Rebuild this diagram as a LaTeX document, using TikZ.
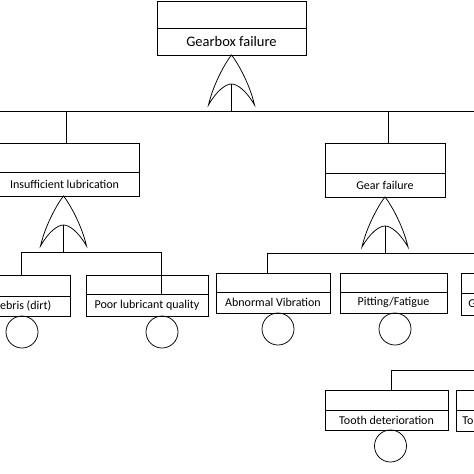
\documentclass[tikz,border=0pt]{standalone}
\usepackage{fontspec}
\setmainfont{Carlito}
\newcommand\evbox[7]{%
  \node[evpart, minimum width={(#3)-(#2)}, minimum height={(#5)-(#4)}] (#1u) at ({((#2)+(#3))/2},{((#4)+(#5))/2}) {};
  \node[evpart, minimum width={(#3)-(#2)}, minimum height={(#6)-(#5)}] (#1) at ({((#2)+(#3))/2},{((#5)+(#6))/2}) {#7};
}
\begin{document}
\begin{tikzpicture}[x=1pt,y=-1pt,line width=0.75pt,
  evpart/.style={draw, rectangle, inner sep=0pt, outer sep=0pt, font=\fontsize{12}{14}\selectfont},
  basic/.style={draw, circle, minimum size=32pt, inner sep=0pt, outer sep=0pt},
  lbl/.style={inner sep=0pt, font=\fontsize{12}{14}\selectfont},
  andgate/.pic={
    \draw (0,0) .. controls (-5,6) and (-18,28) .. (-23,50)
      .. controls (-15,36) and (-6,29) .. (0,29)
      .. controls (6,29) and (15,36) .. (23,50)
      .. controls (18,28) and (5,6) .. (0,0) -- cycle;
    \coordinate (-in) at (0,29);
  }]
\useasboundingbox (0,0) rectangle (474,474);
\clip (0,0) rectangle (474,474);

% events
\evbox{top}{157}{306}{1}{28}{55}{}
\node[lbl, font=\fontsize{14.5}{16}\selectfont] (toplbl) at (top) {Gearbox failure};
\evbox{ins}{-10}{139}{143}{172}{196}{Insufficient lubrication}
\evbox{gear}{325}{445}{143}{173}{197}{Gear failure}
\evbox{deb}{-26}{70}{275}{296}{316}{Debris (dirt)}
\evbox{poor}{86}{208}{275}{294}{316}{Poor lubricant quality}
\evbox{abn}{216}{330}{273}{292}{313}{Abnormal Vibration}
\evbox{pit}{340}{447}{273}{292}{313}{Pitting/Fatigue}
\evbox{gx}{461}{580}{273}{293}{315}{}
\node[lbl, anchor=west] (gxl) at ([xshift=7pt]gx.west) {G};
\evbox{tooth}{325}{448}{390}{410}{430}{Tooth deterioration}
\evbox{tox}{456}{580}{390}{410}{431}{}
\node[lbl, anchor=west] (toxl) at ([xshift=6pt]tox.west) {To};

% basic event circles
\node[basic, anchor=north] (c1) at (deb.south) {};
\node[basic, anchor=north] (c2) at ([xshift=15pt]poor.south) {};
\node[basic, anchor=north] (c3) at ([xshift=5pt]abn.south) {};
\node[basic, anchor=north] (c4) at ([xshift=1.5pt]pit.south) {};
\node[basic, anchor=north] (c5) at ([xshift=4pt]tooth.south) {};

% gates
\pic (g1) at (top.south) {andgate};
\pic (g2) at ([xshift=-1pt]ins.south) {andgate};
\pic (g3) at (gear.south) {andgate};

% bars
\coordinate (b1l) at (0,111);   \coordinate (b1r) at (474,111);
\coordinate (b2l) at (21,252);  \coordinate (b2r) at (161,252);
\coordinate (b3l) at (267,253); \coordinate (b3r) at (474,253);
\coordinate (b4l) at (391,370); \coordinate (b4r) at (474,370);
\draw (b1l) -- (b1r);
\draw (b2l) -- (b2r);
\draw (b3l) -- (b3r);
\draw (b4l) -- (b4r);

% connectors
\draw (g1-in) -- (g1-in |- b1l);
\draw (g2-in) -- (g2-in |- b2l);
\draw (g3-in) -- (g3-in |- b3l);
\draw ([xshift=1.5pt]insu.north) -- ([xshift=1.5pt]insu.north |- b1l);
\draw ([xshift=3pt]gearu.north) -- ([xshift=3pt]gearu.north |- b1l);
\draw (b2l) -- (b2l |- debu.north);
\draw (b2r) -- (b2r |- poor.north);
\draw (b3l) -- (b3l |- abnu.north);
\draw (b4l) -- (b4l |- toothu.north);
\end{tikzpicture}
\end{document}
